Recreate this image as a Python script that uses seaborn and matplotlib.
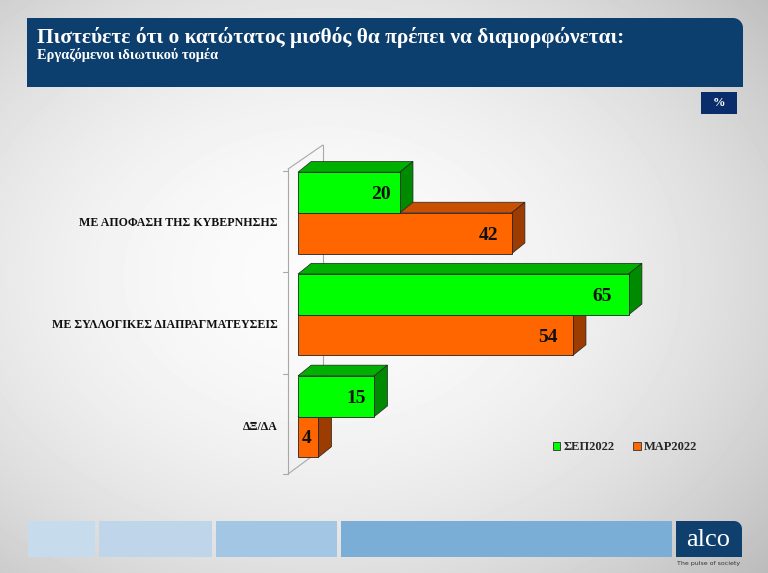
import numpy as np
import pandas as pd
import matplotlib
matplotlib.use("Agg")
import matplotlib.pyplot as plt
import seaborn as sns
from matplotlib.patches import Polygon, Rectangle, Patch
from matplotlib.transforms import ScaledTranslation

# ---------------- data ----------------
title = "Πιστεύετε ότι ο κατώτατος μισθός θα πρέπει να διαμορφώνεται:"
subtitle = "Εργαζόμενοι ιδιωτικού τομέα"
categories = ["ΜΕ ΑΠΟΦΑΣΗ ΤΗΣ ΚΥΒΕΡΝΗΣΗΣ", "ΜΕ ΣΥΛΛΟΓΙΚΕΣ ΔΙΑΠΡΑΓΜΑΤΕΥΣΕΙΣ", "ΔΞ/ΔΑ"]
series_names = ["ΣΕΠ2022", "ΜΑΡ2022"]
sep2022 = [20, 65, 15]
mar2022 = [42, 54, 4]

front_colors = {"ΣΕΠ2022": "#00ff00", "ΜΑΡ2022": "#ff6600"}
top_colors = {"ΣΕΠ2022": "#00b000", "ΜΑΡ2022": "#c85000"}
side_colors = {"ΣΕΠ2022": "#008a00", "ΜΑΡ2022": "#9c3c00"}

df = pd.DataFrame({
    "category": categories * 2,
    "value": sep2022 + mar2022,
    "period": [series_names[0]] * 3 + [series_names[1]] * 3,
})

SERIF = ["Liberation Serif", "DejaVu Serif"]
W, H = 768, 573

def fx(x):
    return x / W

def fy(y):
    return 1 - y / H

def rr_poly(x0, y0, x1, y1, r, **kw):
    # rectangle with rounded top-right corner, pixel coords (y down)
    pts = [(x0, y1), (x0, y0), (x1 - r, y0)]
    for a in np.linspace(np.pi / 2, 0, 12):
        pts.append((x1 - r + r * np.cos(a), y0 + r - r * np.sin(a)))
    pts.append((x1, y1))
    pts = [(fx(a), fy(b)) for a, b in pts]
    return Polygon(pts, closed=True, transform=fig.transFigure, **kw)

sns.set_theme(style="white")
fig = plt.figure(figsize=(7.68, 5.73), dpi=100)

# ---------------- background gradient ----------------
bg = fig.add_axes([0, 0, 1, 1], zorder=-10)
yy, xx = np.mgrid[0:H, 0:W]
r = np.sqrt(((xx - W * 0.42) / (W * 0.62)) ** 2 + ((yy - H * 0.48) / (H * 0.62)) ** 2)
v = 0.985 - 0.16 * np.clip(r, 0, 1.6) ** 2
bg.imshow(v, cmap="gray", vmin=0, vmax=1, aspect="auto", extent=[0, 1, 0, 1],
          interpolation="bilinear")
bg.axis("off")

# ---------------- header ----------------
fig.patches.append(rr_poly(27, 18, 743, 87, 10, facecolor="#0d3f6e", edgecolor="none"))
fig.text(fx(37), fy(43.5), title, color="white", fontsize=15.4, fontweight="bold",
         family=SERIF, ha="left", va="baseline")
fig.text(fx(37), fy(59.5), subtitle, color="white", fontsize=10.4, fontweight="bold",
         family=SERIF, ha="left", va="baseline")
fig.patches.append(Rectangle((fx(701), fy(114)), fx(737) - fx(701), fy(92) - fy(114),
                             transform=fig.transFigure, facecolor="#0b2c6b", edgecolor="none"))
fig.text(fx(719), fy(103), "%", color="white", fontsize=9, fontweight="bold",
         family=SERIF, ha="center", va="center")

# ---------------- footer ----------------
for (a, b, c) in [(28, 95, "#c6dbec"), (99, 212, "#bed5ea"), (216, 337, "#a3c6e4"), (341, 672, "#7aaed7")]:
    fig.patches.append(Rectangle((fx(a), fy(557)), fx(b) - fx(a), fy(521) - fy(557),
                                 transform=fig.transFigure, facecolor=c, edgecolor="none"))
fig.patches.append(rr_poly(676, 521, 742, 557, 8, facecolor="#0e3f6d", edgecolor="none"))
fig.text(fx(708), fy(540), "alco", color="white", fontsize=19, family=SERIF,
         ha="center", va="center")
fig.text(fx(709), fy(563), "The pulse of society", color="#333333", fontsize=4.5,
         family=["DejaVu Sans"], ha="center", va="center")

# ---------------- chart ----------------
ax = fig.add_axes([298 / W, 1 - 467.5 / H, 407 / W, 305.5 / H])
ax.set_facecolor("none")
sns.barplot(data=df, y="category", x="value", hue="period", order=categories,
            hue_order=series_names, palette=front_colors, saturation=1, orient="h",
            width=0.8, edgecolor="#222222", linewidth=0.6, legend=False, ax=ax)
ax.set_xlim(0, 80)
ax.set_ylim(2.5, -0.5)

ddx, ddy = 2.6, 0.105
for cont, name in zip(ax.containers, series_names):
    base_z = 2.1 if name == series_names[0] else 1.8
    for bar in cont:
        bar.set_zorder(base_z + 0.1)
        x0, y, w, h = bar.get_x(), bar.get_y(), bar.get_width(), bar.get_height()
        x1 = x0 + w
        top = Polygon([(x0, y), (x1, y), (x1 + ddx, y - ddy), (x0 + ddx, y - ddy)],
                      closed=True, facecolor=top_colors[name], edgecolor="#222222",
                      linewidth=0.5, zorder=base_z, clip_on=False)
        side = Polygon([(x1, y), (x1 + ddx, y - ddy), (x1 + ddx, y + h - ddy), (x1, y + h)],
                       closed=True, facecolor=side_colors[name], edgecolor="#222222",
                       linewidth=0.5, zorder=base_z + 0.05, clip_on=False)
        ax.add_patch(top)
        ax.add_patch(side)
        gap = 1.2 + 0.033 * w
        ax.text(x1 - gap, y + h / 2, f"{w:g}", ha="right", va="center_baseline",
                fontsize=14, fontweight="bold", family=SERIF, color="#111111",
                zorder=5)

# left wall (3D frame)
wall_kw = dict(color="#a8a8a8", lw=0.8, clip_on=False, zorder=0.5)
fxw, bxw = -1.96, 4.9
ax.plot([fxw, fxw], [-0.431, 2.564], **wall_kw)
ax.plot([bxw, bxw], [-0.667, 2.31], **wall_kw)
ax.plot([fxw, bxw], [-0.431, -0.667], **wall_kw)
ax.plot([fxw, bxw], [2.564, 2.31], **wall_kw)
for t in [-0.41, 0.585, 1.58, 2.564]:
    ax.plot([fxw - 1.0, fxw], [t, t], **wall_kw)

ax.set_xticks([])
ax.set_yticks(range(len(categories)))
ax.set_yticklabels(categories, fontsize=8.6, fontweight="bold", family=SERIF, color="#111111")
ax.tick_params(axis="y", length=0, pad=14.5)
off = ScaledTranslation(0, -0.09, fig.dpi_scale_trans)
for lab in ax.get_yticklabels():
    lab.set_transform(lab.get_transform() + off)
ax.set_xlabel("")
ax.set_ylabel("")
for s in ax.spines.values():
    s.set_visible(False)

handles = [Patch(facecolor=front_colors[n], edgecolor="#333333", linewidth=0.6) for n in series_names]
ax.legend(handles, series_names, loc="center", bbox_to_anchor=(fx(625), fy(447)),
          bbox_transform=fig.transFigure, ncol=2, frameon=False, handlelength=0.6,
          handleheight=0.6, handletextpad=0.25, columnspacing=1.5,
          prop=dict(family=SERIF, weight="bold", size=9))

fig.savefig("out.png", dpi=100)
